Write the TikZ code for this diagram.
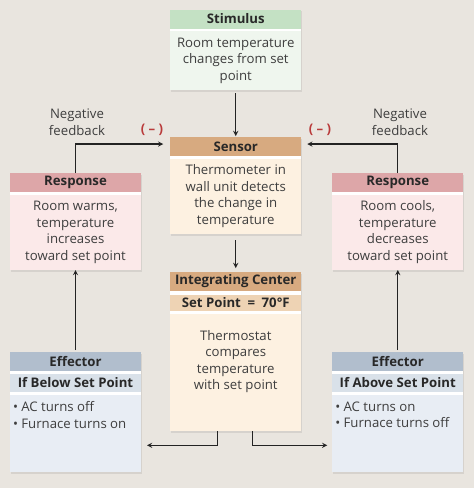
\documentclass[tikz,border=0pt]{standalone}
\usepackage{fontspec}
\setmainfont{Open Sans}
\usepackage{tikz}
\usetikzlibrary{arrows,positioning,shadows}
\usepackage{xcolor}
\definecolor{hbg}{RGB}{233,229,223}
\definecolor{hstimgreen}{RGB}{196,225,196}
\definecolor{hstimlight}{RGB}{239,246,238}
\definecolor{htan}{RGB}{215,170,128}
\definecolor{hlighttan}{RGB}{238,211,180}
\definecolor{hcream}{RGB}{253,241,225}
\definecolor{hpink}{RGB}{221,166,168}
\definecolor{hlightpink}{RGB}{251,233,233}
\definecolor{hslate}{RGB}{177,190,205}
\definecolor{hlightslate}{RGB}{217,225,233}
\definecolor{hpaleslate}{RGB}{232,237,244}
\definecolor{hheadtext}{RGB}{40,40,40}
\definecolor{hbodytext}{RGB}{62,62,62}
\definecolor{harrow}{RGB}{35,35,35}
\definecolor{hminus}{RGB}{185,58,58}
\tikzstyle{card} = [rectangle, fill=white, minimum width=131pt, inner sep=0pt, outer sep=0pt, drop shadow={opacity=0.18, shadow xshift=1pt, shadow yshift=-1.5pt}]
\tikzstyle{cardhead} = [rectangle, minimum width=131pt, minimum height=19pt, inner sep=0pt, outer sep=0pt, text centered, font=\fontsize{13.2}{16.5}\selectfont\bfseries, text=hheadtext]
\tikzstyle{cardbody} = [rectangle, minimum width=131pt, inner sep=3pt, outer sep=0pt, align=center, font=\fontsize{13.2}{16.5}\selectfont, text=hbodytext]
\tikzstyle{fbtext} = [align=center, inner sep=0pt, font=\fontsize{13.2}{16.5}\selectfont, text=hbodytext]
\tikzstyle{minus} = [inner sep=0pt, font=\fontsize{13.2}{16.5}\selectfont\bfseries, text=hminus]
\tikzstyle{arrow} = [line width=1.3pt,->,>=stealth,color=harrow]

\begin{document}
\begin{tikzpicture}[x=1pt, y=-1pt]
% Background
\fill[hbg] (0,0) rectangle (474,488);

% Middle column
\node (stim) [card, minimum height=80.5pt] at (235.75,49.75) {};
\node (stimhead) [cardhead, fill=hstimgreen, below=0pt of stim.north] {Stimulus};
\node (stimbody) [cardbody, fill=hstimlight, minimum height=59pt, above=0pt of stim.south] {Room temperature\\changes from set\\point};

\node (sens) [card, minimum height=97pt, below=47pt of stim] {};
\node (senshead) [cardhead, fill=htan, below=0pt of sens.north] {Sensor};
\node (sensbody) [cardbody, fill=hcream, minimum height=75.5pt, above=0pt of sens.south] {Thermometer in\\wall unit detects\\the change in\\temperature};

\node (int) [card, minimum height=159pt, below=38pt of sens] {};
\node (inthead) [cardhead, fill=htan, below=0pt of int.north] {Integrating Center};
\node (setpt) [cardhead, fill=hlighttan, minimum height=16.5pt, below=3.5pt of inthead] {Set Point\enspace=\enspace70°F};
\node (intbody) [cardbody, fill=hcream, minimum height=117pt, above=0pt of int.south] {\parbox[c][111pt][t]{125pt}{\centering\vspace*{13pt}Thermostat\\compares\\temperature\\with set point}};

% Left column
\node (respL) [card, minimum height=97pt] at (75.5,221.5) {};
\node (respheadL) [cardhead, fill=hpink, below=0pt of respL.north] {Response};
\node (respbodyL) [cardbody, fill=hlightpink, minimum height=75.5pt, above=0pt of respL.south] {Room warms,\\temperature\\increases\\toward set point};

\node (effL) [card, minimum height=120pt] at (75.5,412) {};
\node (effheadL) [cardhead, fill=hslate, below=0pt of effL.north] {Effector};
\node (effsubL) [cardhead, fill=hlightslate, minimum height=18pt, below=3pt of effheadL] {If Below Set Point};
\node (effbodyL) [cardbody, fill=hpaleslate, minimum height=77.5pt, above=0pt of effL.south] {\parbox[c][71.5pt][t]{125pt}{\raggedright\vspace*{4pt}• AC turns off\\• Furnace turns on}};

% Right column
\node (respR) [card, minimum height=97pt] at (397.75,221.5) {};
\node (respheadR) [cardhead, fill=hpink, below=0pt of respR.north] {Response};
\node (respbodyR) [cardbody, fill=hlightpink, minimum height=75.5pt, above=0pt of respR.south] {Room cools,\\temperature\\decreases\\toward set point};

\node (effR) [card, minimum height=120pt] at (397.75,412) {};
\node (effheadR) [cardhead, fill=hslate, below=0pt of effR.north] {Effector};
\node (effsubR) [cardhead, fill=hlightslate, minimum height=18pt, below=3pt of effheadR] {If Above Set Point};
\node (effbodyR) [cardbody, fill=hpaleslate, minimum height=77.5pt, above=0pt of effR.south] {\parbox[c][71.5pt][t]{125pt}{\raggedright\vspace*{4pt}• AC turns on\\• Furnace turns off}};

% Arrows
\draw[arrow, shorten <=3pt, shorten >=1pt] (stimbody.south) -- (senshead.north);
\draw[arrow, shorten <=6pt, shorten >=4pt] (sensbody.south) -- (inthead.north);
\draw[arrow, shorten >=7pt] (respheadL.north) |- ([yshift=2.5pt]senshead.west);
\draw[arrow, shorten >=6pt] (respheadR.north) |- ([yshift=2.5pt]senshead.east);
\draw[arrow, shorten <=2pt] (effheadL.north) -- (respbodyL.south);
\draw[arrow, shorten <=2pt] (effheadR.north) -- (respbodyR.south);
\draw[arrow, shorten >=6pt] ([xshift=-18pt]intbody.south) |- ([yshift=-12pt]effbodyL.east);
\draw[arrow, shorten >=5pt] ([xshift=17pt]intbody.south) |- ([yshift=-12pt]effbodyR.west);

% Feedback labels
\node (fbL) [fbtext] at (77,122) {Negative\\feedback};
\node (minusL) [minus] at (152,130) {(~–~)};
\node (fbR) [fbtext] at (400,122) {Negative\\feedback};
\node (minusR) [minus] at (320,130) {(~–~)};
\end{tikzpicture}
\end{document}
